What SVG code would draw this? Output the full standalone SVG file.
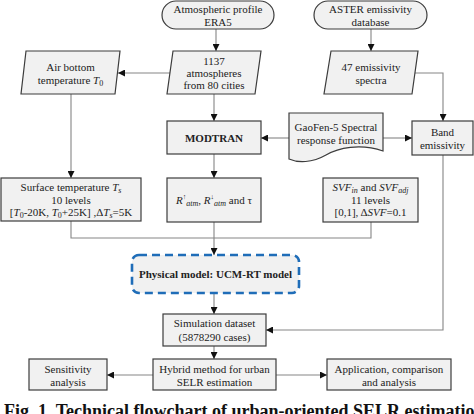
<svg xmlns="http://www.w3.org/2000/svg" width="474" height="414" viewBox="0 0 474 414">
<defs>
<style>
.box{fill:#f1f1f1;stroke:#3c3c3c;stroke-width:1.2}
.t{font-size:11px;fill:#222;text-anchor:middle}
.b{font-weight:bold}
.i{font-style:italic}
.c{fill:none;stroke:#858585;stroke-width:1.1}
.a{marker-end:url(#ar)}
</style>
<marker id="ar" viewBox="0 0 10 10" refX="10" refY="5" markerWidth="7" markerHeight="7" markerUnits="userSpaceOnUse" orient="auto">
<path d="M0,0 L10,5 L0,10 Z" fill="#111"/>
</marker>
</defs>
<rect width="474" height="414" fill="#fff"/>

<g id="connectors">
<line class="c a" x1="216" y1="29" x2="216" y2="51"/>
<line class="c a" x1="371" y1="29" x2="371" y2="51"/>
<line class="c a" x1="170" y1="73" x2="118" y2="73"/>
<line class="c a" x1="71" y1="94" x2="71" y2="178"/>
<line class="c a" x1="214" y1="94" x2="214" y2="121"/>
<line class="c a" x1="289" y1="138" x2="261" y2="138"/>
<line class="c a" x1="383" y1="138" x2="412" y2="138"/>
<polyline class="c a" points="415,73 443,73 443,121"/>
<line class="c a" x1="214" y1="154" x2="214" y2="178"/>
<polyline class="c" points="71,221 71,238 371,238 371,222"/>
<line class="c a" x1="214" y1="222" x2="214" y2="255"/>
<polyline class="c a" points="443,155 443,330 266,330"/>
<line class="c a" x1="214" y1="293" x2="214" y2="314"/>
<line class="c a" x1="214" y1="346" x2="214" y2="359"/>
<line class="c a" x1="153" y1="375" x2="107" y2="375"/>
<line class="c a" x1="276" y1="375" x2="327" y2="375"/>
</g>

<g font-family="Liberation Serif, Times New Roman, serif">
<g id="era5">
<rect class="box" x="162" y="1" width="112" height="28" rx="14"/>
<text class="t" x="218" y="13">Atmospheric profile</text>
<text class="t" x="218" y="25.5">ERA5</text>
</g>
<g id="aster">
<rect class="box" x="314" y="1" width="113" height="28" rx="14"/>
<text class="t" x="370.5" y="13">ASTER emissivity</text>
<text class="t" x="370.5" y="25.5">database</text>
</g>
<g id="atmospheres">
<path class="box" d="M173,51 L261,51 L255,94 L167,94 Z"/>
<text class="t" x="214" y="65">1137</text>
<text class="t" x="214" y="77">atmospheres</text>
<text class="t" x="214" y="89">from 80 cities</text>
</g>
<g id="airtemp">
<path class="box" d="M26,51 L120,51 L115,94 L21,94 Z"/>
<text class="t" x="70.5" y="71">Air bottom</text>
<text class="t" x="70.5" y="84">temperature <tspan class="i">T</tspan><tspan font-size="8" dy="2">0</tspan></text>
</g>
<g id="spectra">
<path class="box" d="M331,51 L418,51 L412,94 L324,94 Z"/>
<text class="t" x="371" y="71">47 emissivity</text>
<text class="t" x="371" y="84">spectra</text>
</g>
<g id="modtran">
<rect class="box" x="167" y="121" width="94" height="33"/>
<text class="t b" x="214" y="142">MODTRAN</text>
</g>
<g id="gaofen">
<path class="box" d="M289,113 H383 V151 C360,143 338,148 326,155 C312,163 298,163 289,159 Z"/>
<text class="t" x="336" y="131">GaoFen-5 Spectral</text>
<text class="t" x="336" y="144">response function</text>
</g>
<g id="band">
<rect class="box" x="412" y="121" width="61" height="34"/>
<text class="t" x="442.5" y="136">Band</text>
<text class="t" x="442.5" y="149">emissivity</text>
</g>
<g id="surface">
<rect class="box" x="1" y="178" width="140" height="43"/>
<text class="t" x="71" y="191">Surface temperature <tspan class="i">T</tspan><tspan class="i" font-size="8" dy="2">s</tspan></text>
<text class="t" x="71" y="204">10 levels</text>
<text class="t" x="71" y="216">[<tspan class="i">T</tspan><tspan font-size="8" dy="2">0</tspan><tspan dy="-2">-20K, </tspan><tspan class="i">T</tspan><tspan font-size="8" dy="2">0</tspan><tspan dy="-2">+25K] ,Δ</tspan><tspan class="i">T</tspan><tspan class="i" font-size="8" dy="2">s</tspan><tspan dy="-2">=5K</tspan></text>
</g>
<g id="ratm">
<rect class="box" x="167" y="178" width="94" height="44"/>
<text class="t" x="214" y="204"><tspan class="i">R</tspan><tspan font-size="7" dy="-5">↑</tspan><tspan class="i" font-size="8" dy="7">atm</tspan><tspan dy="-2">,  </tspan><tspan class="i">R</tspan><tspan font-size="7" dy="-5">↓</tspan><tspan class="i" font-size="8" dy="7">atm</tspan><tspan dy="-2"> and τ</tspan></text>
</g>
<g id="svf">
<rect class="box" x="323" y="178" width="95" height="44"/>
<text class="t" x="370.5" y="191"><tspan class="i">SVF</tspan><tspan class="i" font-size="8" dy="2">in</tspan><tspan dy="-2"> and </tspan><tspan class="i">SVF</tspan><tspan class="i" font-size="8" dy="2">adj</tspan></text>
<text class="t" x="370.5" y="204">11 levels</text>
<text class="t" x="370.5" y="216">[0,1],  Δ<tspan class="i">SVF</tspan>=0.1</text>
</g>
<g id="physical">
<rect x="132" y="255" width="167" height="38" rx="7" fill="#f1f1f1" stroke="#1f6db8" stroke-width="2.6" stroke-dasharray="8 5"/>
<text class="t b" x="215.5" y="278">Physical model: UCM-RT model</text>
</g>
<g id="simulation">
<rect class="box" x="163" y="314" width="103" height="32"/>
<text class="t" x="214.5" y="327">Simulation dataset</text>
<text class="t" x="214.5" y="341">(5878290 cases)</text>
</g>
<g id="hybrid">
<rect class="box" x="153" y="359" width="123" height="31"/>
<text class="t" x="214.5" y="373">Hybrid method for urban</text>
<text class="t" x="214.5" y="386">SELR estimation</text>
</g>
<g id="sensitivity">
<rect class="box" x="29" y="359" width="78" height="31"/>
<text class="t" x="68" y="373">Sensitivity</text>
<text class="t" x="68" y="386">analysis</text>
</g>
<g id="application">
<rect class="box" x="327" y="359" width="124" height="31"/>
<text class="t" x="389" y="373">Application, comparison</text>
<text class="t" x="389" y="386">and analysis</text>
</g>
<text x="4" y="417" font-weight="bold" font-size="18" fill="#111">Fig. 1. Technical flowchart of urban-oriented SELR estimation</text>
</g>
</svg>
